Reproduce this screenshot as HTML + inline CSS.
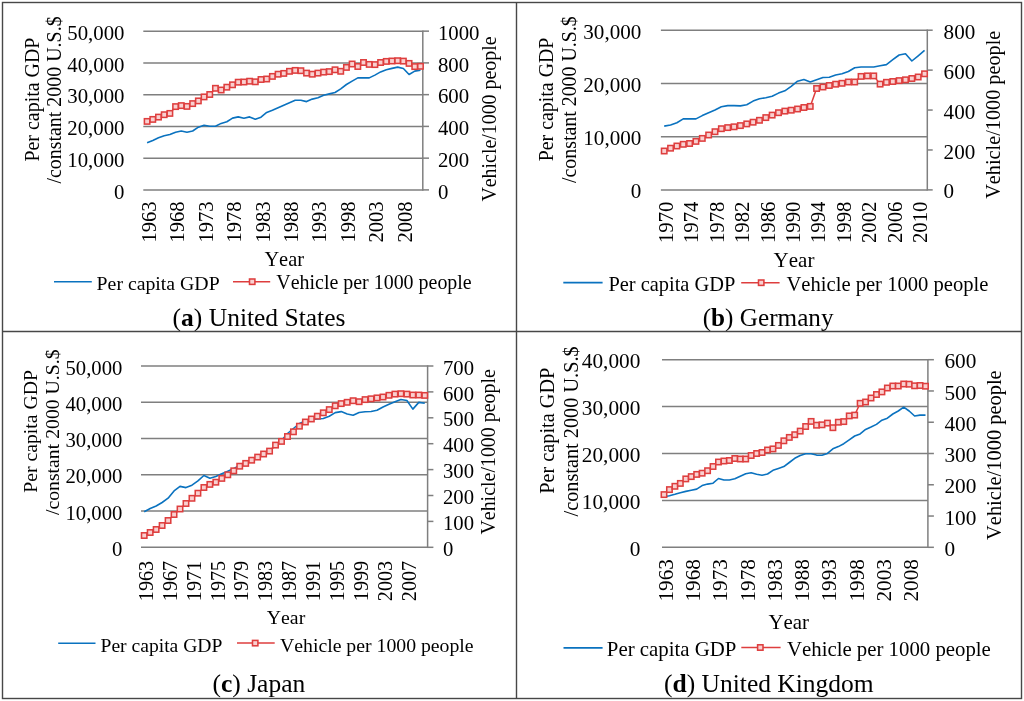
<!DOCTYPE html>
<html><head><meta charset="utf-8"><style>
html,body{margin:0;padding:0;background:#fff;width:1024px;height:701px;overflow:hidden}
svg{display:block;will-change:transform}
text{font-family:"Liberation Serif", serif;fill:#000;font-kerning:none}
</style></head><body>
<svg width="1024" height="701" viewBox="0 0 1024 701">
<rect x="0" y="0" width="1024" height="701" fill="#fff"/>
<line x1="143.3" y1="31.15" x2="422.8" y2="31.15" stroke="#7f7f7f" stroke-width="1.5"/>
<line x1="143.3" y1="62.9" x2="422.8" y2="62.9" stroke="#7f7f7f" stroke-width="1.5"/>
<line x1="143.3" y1="94.65" x2="422.8" y2="94.65" stroke="#7f7f7f" stroke-width="1.5"/>
<line x1="143.3" y1="126.4" x2="422.8" y2="126.4" stroke="#7f7f7f" stroke-width="1.5"/>
<line x1="143.3" y1="158.15" x2="422.8" y2="158.15" stroke="#7f7f7f" stroke-width="1.5"/>
<line x1="143.3" y1="189.9" x2="422.8" y2="189.9" stroke="#7f7f7f" stroke-width="1.5"/>
<line x1="422.8" y1="30.4" x2="422.8" y2="190.65" stroke="#7f7f7f" stroke-width="1.5"/>
<line x1="422.8" y1="31.15" x2="429" y2="31.15" stroke="#7f7f7f" stroke-width="1.5"/>
<line x1="422.8" y1="62.9" x2="429" y2="62.9" stroke="#7f7f7f" stroke-width="1.5"/>
<line x1="422.8" y1="94.65" x2="429" y2="94.65" stroke="#7f7f7f" stroke-width="1.5"/>
<line x1="422.8" y1="126.4" x2="429" y2="126.4" stroke="#7f7f7f" stroke-width="1.5"/>
<line x1="422.8" y1="158.15" x2="429" y2="158.15" stroke="#7f7f7f" stroke-width="1.5"/>
<line x1="422.8" y1="189.9" x2="429" y2="189.9" stroke="#7f7f7f" stroke-width="1.5"/>
<polyline points="147.1,142.8 152.79,140.5 158.49,137.8 164.19,135.8 169.88,134.5 175.57,132.2 181.27,131 186.97,132.3 192.66,131 198.35,127.2 204.05,125.2 209.75,126.3 215.44,126.3 221.13,123.4 226.83,121.7 232.53,118.1 238.22,116.9 243.91,118.2 249.61,116.9 255.31,119.3 261,117.2 266.69,112.4 272.39,110.3 278.09,107.8 283.78,105.2 289.48,102.8 295.17,100.3 300.87,100.3 306.56,101.6 312.25,99.1 317.95,97.8 323.64,95.2 329.34,93.9 335.03,92.5 340.73,88.8 346.43,84.5 352.12,81.1 357.81,77.9 363.51,77.9 369.21,77.9 374.9,75.1 380.6,71.9 386.29,69.8 391.99,68.4 397.68,67.1 403.38,68.5 409.07,74.5 414.76,71.1 420.46,70.1" fill="none" stroke="#0a72bf" stroke-width="1.6" stroke-linejoin="round"/>
<polyline points="147.1,121.4 152.79,119.4 158.49,117.1 164.19,114.7 169.88,113.4 175.57,106.6 181.27,105.6 186.97,106.4 192.66,103.6 198.35,100.9 204.05,96.9 209.75,94.5 215.44,88.3 221.13,90 226.83,87.2 232.53,84.8 238.22,82.2 243.91,82 249.61,81.2 255.31,81.8 261,79.5 266.69,79 272.39,76.4 278.09,74.2 283.78,73.4 289.48,71.3 295.17,70.4 300.87,70.7 306.56,73.1 312.25,74.2 317.95,73.1 323.64,72.1 329.34,71.6 335.03,69.8 340.73,71.3 346.43,67.4 352.12,64 357.81,66.5 363.51,62.5 369.21,64.4 374.9,64.6 380.6,62.5 386.29,61.4 391.99,61 397.68,60.7 403.38,61.1 409.07,63.4 414.76,66.6 420.46,66.3" fill="none" stroke="#de3e3e" stroke-width="1.5" stroke-linejoin="round"/>
<rect x="144.4" y="118.7" width="5.4" height="5.4" fill="#f9d0d0" stroke="#de3e3e" stroke-width="1.55"/>
<rect x="150.09" y="116.7" width="5.4" height="5.4" fill="#f9d0d0" stroke="#de3e3e" stroke-width="1.55"/>
<rect x="155.79" y="114.4" width="5.4" height="5.4" fill="#f9d0d0" stroke="#de3e3e" stroke-width="1.55"/>
<rect x="161.49" y="112" width="5.4" height="5.4" fill="#f9d0d0" stroke="#de3e3e" stroke-width="1.55"/>
<rect x="167.18" y="110.7" width="5.4" height="5.4" fill="#f9d0d0" stroke="#de3e3e" stroke-width="1.55"/>
<rect x="172.88" y="103.9" width="5.4" height="5.4" fill="#f9d0d0" stroke="#de3e3e" stroke-width="1.55"/>
<rect x="178.57" y="102.9" width="5.4" height="5.4" fill="#f9d0d0" stroke="#de3e3e" stroke-width="1.55"/>
<rect x="184.27" y="103.7" width="5.4" height="5.4" fill="#f9d0d0" stroke="#de3e3e" stroke-width="1.55"/>
<rect x="189.96" y="100.9" width="5.4" height="5.4" fill="#f9d0d0" stroke="#de3e3e" stroke-width="1.55"/>
<rect x="195.66" y="98.2" width="5.4" height="5.4" fill="#f9d0d0" stroke="#de3e3e" stroke-width="1.55"/>
<rect x="201.35" y="94.2" width="5.4" height="5.4" fill="#f9d0d0" stroke="#de3e3e" stroke-width="1.55"/>
<rect x="207.05" y="91.8" width="5.4" height="5.4" fill="#f9d0d0" stroke="#de3e3e" stroke-width="1.55"/>
<rect x="212.74" y="85.6" width="5.4" height="5.4" fill="#f9d0d0" stroke="#de3e3e" stroke-width="1.55"/>
<rect x="218.44" y="87.3" width="5.4" height="5.4" fill="#f9d0d0" stroke="#de3e3e" stroke-width="1.55"/>
<rect x="224.13" y="84.5" width="5.4" height="5.4" fill="#f9d0d0" stroke="#de3e3e" stroke-width="1.55"/>
<rect x="229.83" y="82.1" width="5.4" height="5.4" fill="#f9d0d0" stroke="#de3e3e" stroke-width="1.55"/>
<rect x="235.52" y="79.5" width="5.4" height="5.4" fill="#f9d0d0" stroke="#de3e3e" stroke-width="1.55"/>
<rect x="241.22" y="79.3" width="5.4" height="5.4" fill="#f9d0d0" stroke="#de3e3e" stroke-width="1.55"/>
<rect x="246.91" y="78.5" width="5.4" height="5.4" fill="#f9d0d0" stroke="#de3e3e" stroke-width="1.55"/>
<rect x="252.61" y="79.1" width="5.4" height="5.4" fill="#f9d0d0" stroke="#de3e3e" stroke-width="1.55"/>
<rect x="258.3" y="76.8" width="5.4" height="5.4" fill="#f9d0d0" stroke="#de3e3e" stroke-width="1.55"/>
<rect x="264" y="76.3" width="5.4" height="5.4" fill="#f9d0d0" stroke="#de3e3e" stroke-width="1.55"/>
<rect x="269.69" y="73.7" width="5.4" height="5.4" fill="#f9d0d0" stroke="#de3e3e" stroke-width="1.55"/>
<rect x="275.39" y="71.5" width="5.4" height="5.4" fill="#f9d0d0" stroke="#de3e3e" stroke-width="1.55"/>
<rect x="281.08" y="70.7" width="5.4" height="5.4" fill="#f9d0d0" stroke="#de3e3e" stroke-width="1.55"/>
<rect x="286.78" y="68.6" width="5.4" height="5.4" fill="#f9d0d0" stroke="#de3e3e" stroke-width="1.55"/>
<rect x="292.47" y="67.7" width="5.4" height="5.4" fill="#f9d0d0" stroke="#de3e3e" stroke-width="1.55"/>
<rect x="298.17" y="68" width="5.4" height="5.4" fill="#f9d0d0" stroke="#de3e3e" stroke-width="1.55"/>
<rect x="303.86" y="70.4" width="5.4" height="5.4" fill="#f9d0d0" stroke="#de3e3e" stroke-width="1.55"/>
<rect x="309.56" y="71.5" width="5.4" height="5.4" fill="#f9d0d0" stroke="#de3e3e" stroke-width="1.55"/>
<rect x="315.25" y="70.4" width="5.4" height="5.4" fill="#f9d0d0" stroke="#de3e3e" stroke-width="1.55"/>
<rect x="320.94" y="69.4" width="5.4" height="5.4" fill="#f9d0d0" stroke="#de3e3e" stroke-width="1.55"/>
<rect x="326.64" y="68.9" width="5.4" height="5.4" fill="#f9d0d0" stroke="#de3e3e" stroke-width="1.55"/>
<rect x="332.33" y="67.1" width="5.4" height="5.4" fill="#f9d0d0" stroke="#de3e3e" stroke-width="1.55"/>
<rect x="338.03" y="68.6" width="5.4" height="5.4" fill="#f9d0d0" stroke="#de3e3e" stroke-width="1.55"/>
<rect x="343.73" y="64.7" width="5.4" height="5.4" fill="#f9d0d0" stroke="#de3e3e" stroke-width="1.55"/>
<rect x="349.42" y="61.3" width="5.4" height="5.4" fill="#f9d0d0" stroke="#de3e3e" stroke-width="1.55"/>
<rect x="355.12" y="63.8" width="5.4" height="5.4" fill="#f9d0d0" stroke="#de3e3e" stroke-width="1.55"/>
<rect x="360.81" y="59.8" width="5.4" height="5.4" fill="#f9d0d0" stroke="#de3e3e" stroke-width="1.55"/>
<rect x="366.51" y="61.7" width="5.4" height="5.4" fill="#f9d0d0" stroke="#de3e3e" stroke-width="1.55"/>
<rect x="372.2" y="61.9" width="5.4" height="5.4" fill="#f9d0d0" stroke="#de3e3e" stroke-width="1.55"/>
<rect x="377.9" y="59.8" width="5.4" height="5.4" fill="#f9d0d0" stroke="#de3e3e" stroke-width="1.55"/>
<rect x="383.59" y="58.7" width="5.4" height="5.4" fill="#f9d0d0" stroke="#de3e3e" stroke-width="1.55"/>
<rect x="389.29" y="58.3" width="5.4" height="5.4" fill="#f9d0d0" stroke="#de3e3e" stroke-width="1.55"/>
<rect x="394.98" y="58" width="5.4" height="5.4" fill="#f9d0d0" stroke="#de3e3e" stroke-width="1.55"/>
<rect x="400.68" y="58.4" width="5.4" height="5.4" fill="#f9d0d0" stroke="#de3e3e" stroke-width="1.55"/>
<rect x="406.37" y="60.7" width="5.4" height="5.4" fill="#f9d0d0" stroke="#de3e3e" stroke-width="1.55"/>
<rect x="412.06" y="63.9" width="5.4" height="5.4" fill="#f9d0d0" stroke="#de3e3e" stroke-width="1.55"/>
<rect x="417.76" y="63.6" width="5.4" height="5.4" fill="#f9d0d0" stroke="#de3e3e" stroke-width="1.55"/>
<text transform="translate(124.5,39.75) scale(1.03,1)" font-size="20.2" text-anchor="end">50,000</text>
<text transform="translate(124.5,71.5) scale(1.03,1)" font-size="20.2" text-anchor="end">40,000</text>
<text transform="translate(124.5,103.25) scale(1.03,1)" font-size="20.2" text-anchor="end">30,000</text>
<text transform="translate(124.5,135) scale(1.03,1)" font-size="20.2" text-anchor="end">20,000</text>
<text transform="translate(124.5,166.75) scale(1.03,1)" font-size="20.2" text-anchor="end">10,000</text>
<text transform="translate(124.5,198.5) scale(1.03,1)" font-size="20.2" text-anchor="end">0</text>
<text transform="translate(437.9,39.75) scale(1.03,1)" font-size="20.2">1000</text>
<text transform="translate(437.9,71.5) scale(1.03,1)" font-size="20.2">800</text>
<text transform="translate(437.9,103.25) scale(1.03,1)" font-size="20.2">600</text>
<text transform="translate(437.9,135) scale(1.03,1)" font-size="20.2">400</text>
<text transform="translate(437.9,166.75) scale(1.03,1)" font-size="20.2">200</text>
<text transform="translate(437.9,198.5) scale(1.03,1)" font-size="20.2">0</text>
<text transform="translate(155.6,242.6) rotate(-90)" font-size="20.6">1963</text>
<text transform="translate(184.07,242.6) rotate(-90)" font-size="20.6">1968</text>
<text transform="translate(212.55,242.6) rotate(-90)" font-size="20.6">1973</text>
<text transform="translate(241.03,242.6) rotate(-90)" font-size="20.6">1978</text>
<text transform="translate(269.5,242.6) rotate(-90)" font-size="20.6">1983</text>
<text transform="translate(297.98,242.6) rotate(-90)" font-size="20.6">1988</text>
<text transform="translate(326.45,242.6) rotate(-90)" font-size="20.6">1993</text>
<text transform="translate(354.93,242.6) rotate(-90)" font-size="20.6">1998</text>
<text transform="translate(383.4,242.6) rotate(-90)" font-size="20.6">2003</text>
<text transform="translate(411.88,242.6) rotate(-90)" font-size="20.6">2008</text>
<text transform="translate(38.5,161.6) rotate(-90)" font-size="19.95">Per capita GDP</text>
<text transform="translate(60.9,183.6) rotate(-90)" font-size="19.95">/constant 2000 U.S.$</text>
<text transform="translate(496.3,201.6) rotate(-90)" font-size="19.9">Vehicle/1000 people</text>
<text x="264.4" y="266.2" font-size="20.4">Year</text>
<line x1="54" y1="281.7" x2="91.8" y2="281.7" stroke="#0a72bf" stroke-width="1.6"/>
<text x="96.6" y="289.5" font-size="19.8">Per capita GDP</text>
<line x1="233" y1="281.7" x2="270.2" y2="281.7" stroke="#de3e3e" stroke-width="1.5"/>
<rect x="249.5" y="279" width="5.4" height="5.4" fill="#f9d0d0" stroke="#de3e3e" stroke-width="1.55"/>
<text x="276.3" y="289.2" font-size="19.95">Vehicle per 1000 people</text>
<text x="172.6" y="325.6" font-size="25.5">(<tspan font-weight="bold">a</tspan>) United States</text>
<line x1="660.9" y1="30.2" x2="927.3" y2="30.2" stroke="#7f7f7f" stroke-width="1.5"/>
<line x1="660.9" y1="83.43" x2="927.3" y2="83.43" stroke="#7f7f7f" stroke-width="1.5"/>
<line x1="660.9" y1="136.66" x2="927.3" y2="136.66" stroke="#7f7f7f" stroke-width="1.5"/>
<line x1="660.9" y1="189.89" x2="927.3" y2="189.89" stroke="#7f7f7f" stroke-width="1.5"/>
<line x1="927.3" y1="29.45" x2="927.3" y2="190.64" stroke="#7f7f7f" stroke-width="1.5"/>
<line x1="927.3" y1="30.2" x2="932.7" y2="30.2" stroke="#7f7f7f" stroke-width="1.5"/>
<line x1="927.3" y1="70.12" x2="932.7" y2="70.12" stroke="#7f7f7f" stroke-width="1.5"/>
<line x1="927.3" y1="110.05" x2="932.7" y2="110.05" stroke="#7f7f7f" stroke-width="1.5"/>
<line x1="927.3" y1="149.97" x2="932.7" y2="149.97" stroke="#7f7f7f" stroke-width="1.5"/>
<line x1="927.3" y1="189.89" x2="932.7" y2="189.89" stroke="#7f7f7f" stroke-width="1.5"/>
<polyline points="664.2,126.1 670.55,125 676.9,122.7 683.25,118.9 689.6,118.9 695.95,118.9 702.3,115.6 708.65,112.7 715,110 721.35,106.8 727.7,105.6 734.05,105.6 740.4,105.9 746.75,104.7 753.1,101.1 759.45,98.8 765.8,97.7 772.15,96.3 778.5,93.1 784.85,90.8 791.2,86.3 797.55,81.2 803.9,79.5 810.25,82 816.6,79.8 822.95,77.5 829.3,77.2 835.65,75 842,73.8 848.35,71.5 854.7,67.8 861.05,67 867.4,67 873.75,67 880.1,65.7 886.45,64.6 892.8,59.7 899.15,55 905.5,53.7 911.85,61 918.2,55.8 924.55,50.4" fill="none" stroke="#0a72bf" stroke-width="1.6" stroke-linejoin="round"/>
<polyline points="664.2,151 670.55,148.2 676.9,146 683.25,144.3 689.6,143.5 695.95,141.4 702.3,138.4 708.65,135 715,131.7 721.35,128.7 727.7,127.6 734.05,126.8 740.4,125.6 746.75,123.9 753.1,122.2 759.45,120.3 765.8,117.6 772.15,115.1 778.5,112.7 784.85,111.1 791.2,110.2 797.55,109 803.9,107.5 810.25,106.4 816.6,88.5 822.95,87 829.3,85.5 835.65,84.2 842,83.3 848.35,82 854.7,82 861.05,76.4 867.4,75.9 873.75,75.9 880.1,84.1 886.45,82.3 892.8,81.5 899.15,80.6 905.5,79.8 911.85,78.5 918.2,77 924.55,73.8" fill="none" stroke="#de3e3e" stroke-width="1.5" stroke-linejoin="round"/>
<rect x="661.5" y="148.3" width="5.4" height="5.4" fill="#f9d0d0" stroke="#de3e3e" stroke-width="1.55"/>
<rect x="667.85" y="145.5" width="5.4" height="5.4" fill="#f9d0d0" stroke="#de3e3e" stroke-width="1.55"/>
<rect x="674.2" y="143.3" width="5.4" height="5.4" fill="#f9d0d0" stroke="#de3e3e" stroke-width="1.55"/>
<rect x="680.55" y="141.6" width="5.4" height="5.4" fill="#f9d0d0" stroke="#de3e3e" stroke-width="1.55"/>
<rect x="686.9" y="140.8" width="5.4" height="5.4" fill="#f9d0d0" stroke="#de3e3e" stroke-width="1.55"/>
<rect x="693.25" y="138.7" width="5.4" height="5.4" fill="#f9d0d0" stroke="#de3e3e" stroke-width="1.55"/>
<rect x="699.6" y="135.7" width="5.4" height="5.4" fill="#f9d0d0" stroke="#de3e3e" stroke-width="1.55"/>
<rect x="705.95" y="132.3" width="5.4" height="5.4" fill="#f9d0d0" stroke="#de3e3e" stroke-width="1.55"/>
<rect x="712.3" y="129" width="5.4" height="5.4" fill="#f9d0d0" stroke="#de3e3e" stroke-width="1.55"/>
<rect x="718.65" y="126" width="5.4" height="5.4" fill="#f9d0d0" stroke="#de3e3e" stroke-width="1.55"/>
<rect x="725" y="124.9" width="5.4" height="5.4" fill="#f9d0d0" stroke="#de3e3e" stroke-width="1.55"/>
<rect x="731.35" y="124.1" width="5.4" height="5.4" fill="#f9d0d0" stroke="#de3e3e" stroke-width="1.55"/>
<rect x="737.7" y="122.9" width="5.4" height="5.4" fill="#f9d0d0" stroke="#de3e3e" stroke-width="1.55"/>
<rect x="744.05" y="121.2" width="5.4" height="5.4" fill="#f9d0d0" stroke="#de3e3e" stroke-width="1.55"/>
<rect x="750.4" y="119.5" width="5.4" height="5.4" fill="#f9d0d0" stroke="#de3e3e" stroke-width="1.55"/>
<rect x="756.75" y="117.6" width="5.4" height="5.4" fill="#f9d0d0" stroke="#de3e3e" stroke-width="1.55"/>
<rect x="763.1" y="114.9" width="5.4" height="5.4" fill="#f9d0d0" stroke="#de3e3e" stroke-width="1.55"/>
<rect x="769.45" y="112.4" width="5.4" height="5.4" fill="#f9d0d0" stroke="#de3e3e" stroke-width="1.55"/>
<rect x="775.8" y="110" width="5.4" height="5.4" fill="#f9d0d0" stroke="#de3e3e" stroke-width="1.55"/>
<rect x="782.15" y="108.4" width="5.4" height="5.4" fill="#f9d0d0" stroke="#de3e3e" stroke-width="1.55"/>
<rect x="788.5" y="107.5" width="5.4" height="5.4" fill="#f9d0d0" stroke="#de3e3e" stroke-width="1.55"/>
<rect x="794.85" y="106.3" width="5.4" height="5.4" fill="#f9d0d0" stroke="#de3e3e" stroke-width="1.55"/>
<rect x="801.2" y="104.8" width="5.4" height="5.4" fill="#f9d0d0" stroke="#de3e3e" stroke-width="1.55"/>
<rect x="807.55" y="103.7" width="5.4" height="5.4" fill="#f9d0d0" stroke="#de3e3e" stroke-width="1.55"/>
<rect x="813.9" y="85.8" width="5.4" height="5.4" fill="#f9d0d0" stroke="#de3e3e" stroke-width="1.55"/>
<rect x="820.25" y="84.3" width="5.4" height="5.4" fill="#f9d0d0" stroke="#de3e3e" stroke-width="1.55"/>
<rect x="826.6" y="82.8" width="5.4" height="5.4" fill="#f9d0d0" stroke="#de3e3e" stroke-width="1.55"/>
<rect x="832.95" y="81.5" width="5.4" height="5.4" fill="#f9d0d0" stroke="#de3e3e" stroke-width="1.55"/>
<rect x="839.3" y="80.6" width="5.4" height="5.4" fill="#f9d0d0" stroke="#de3e3e" stroke-width="1.55"/>
<rect x="845.65" y="79.3" width="5.4" height="5.4" fill="#f9d0d0" stroke="#de3e3e" stroke-width="1.55"/>
<rect x="852" y="79.3" width="5.4" height="5.4" fill="#f9d0d0" stroke="#de3e3e" stroke-width="1.55"/>
<rect x="858.35" y="73.7" width="5.4" height="5.4" fill="#f9d0d0" stroke="#de3e3e" stroke-width="1.55"/>
<rect x="864.7" y="73.2" width="5.4" height="5.4" fill="#f9d0d0" stroke="#de3e3e" stroke-width="1.55"/>
<rect x="871.05" y="73.2" width="5.4" height="5.4" fill="#f9d0d0" stroke="#de3e3e" stroke-width="1.55"/>
<rect x="877.4" y="81.4" width="5.4" height="5.4" fill="#f9d0d0" stroke="#de3e3e" stroke-width="1.55"/>
<rect x="883.75" y="79.6" width="5.4" height="5.4" fill="#f9d0d0" stroke="#de3e3e" stroke-width="1.55"/>
<rect x="890.1" y="78.8" width="5.4" height="5.4" fill="#f9d0d0" stroke="#de3e3e" stroke-width="1.55"/>
<rect x="896.45" y="77.9" width="5.4" height="5.4" fill="#f9d0d0" stroke="#de3e3e" stroke-width="1.55"/>
<rect x="902.8" y="77.1" width="5.4" height="5.4" fill="#f9d0d0" stroke="#de3e3e" stroke-width="1.55"/>
<rect x="909.15" y="75.8" width="5.4" height="5.4" fill="#f9d0d0" stroke="#de3e3e" stroke-width="1.55"/>
<rect x="915.5" y="74.3" width="5.4" height="5.4" fill="#f9d0d0" stroke="#de3e3e" stroke-width="1.55"/>
<rect x="921.85" y="71.1" width="5.4" height="5.4" fill="#f9d0d0" stroke="#de3e3e" stroke-width="1.55"/>
<text transform="translate(641.3,38.8) scale(1.02,1)" font-size="20.7" text-anchor="end">30,000</text>
<text transform="translate(641.3,92.03) scale(1.02,1)" font-size="20.7" text-anchor="end">20,000</text>
<text transform="translate(641.3,145.26) scale(1.02,1)" font-size="20.7" text-anchor="end">10,000</text>
<text transform="translate(641.3,198.49) scale(1.02,1)" font-size="20.7" text-anchor="end">0</text>
<text transform="translate(943.6,38.8) scale(1.02,1)" font-size="20.7">800</text>
<text transform="translate(943.6,78.72) scale(1.02,1)" font-size="20.7">600</text>
<text transform="translate(943.6,118.64) scale(1.02,1)" font-size="20.7">400</text>
<text transform="translate(943.6,158.57) scale(1.02,1)" font-size="20.7">200</text>
<text transform="translate(943.6,198.49) scale(1.02,1)" font-size="20.7">0</text>
<text transform="translate(673,243.1) rotate(-90)" font-size="20.8">1970</text>
<text transform="translate(698.4,243.1) rotate(-90)" font-size="20.8">1974</text>
<text transform="translate(723.8,243.1) rotate(-90)" font-size="20.8">1978</text>
<text transform="translate(749.2,243.1) rotate(-90)" font-size="20.8">1982</text>
<text transform="translate(774.6,243.1) rotate(-90)" font-size="20.8">1986</text>
<text transform="translate(800,243.1) rotate(-90)" font-size="20.8">1990</text>
<text transform="translate(825.4,243.1) rotate(-90)" font-size="20.8">1994</text>
<text transform="translate(850.8,243.1) rotate(-90)" font-size="20.8">1998</text>
<text transform="translate(876.2,243.1) rotate(-90)" font-size="20.8">2002</text>
<text transform="translate(901.6,243.1) rotate(-90)" font-size="20.8">2006</text>
<text transform="translate(927,243.1) rotate(-90)" font-size="20.8">2010</text>
<text transform="translate(552.5,161.3) rotate(-90)" font-size="19.9">Per capita GDP</text>
<text transform="translate(575.6,183.1) rotate(-90)" font-size="19.9">/constant 2000 U.S.$</text>
<text transform="translate(1000,198.8) rotate(-90)" font-size="20.25">Vehicle/1000 people</text>
<text x="773.6" y="266.6" font-size="21.0">Year</text>
<line x1="563.3" y1="282.6" x2="602.6" y2="282.6" stroke="#0a72bf" stroke-width="1.6"/>
<text x="608.4" y="290.9" font-size="20.4">Per capita GDP</text>
<line x1="741.2" y1="282.7" x2="779.6" y2="282.7" stroke="#de3e3e" stroke-width="1.5"/>
<rect x="758.5" y="280" width="5.4" height="5.4" fill="#f9d0d0" stroke="#de3e3e" stroke-width="1.55"/>
<text x="786.5" y="290.6" font-size="20.6">Vehicle per 1000 people</text>
<text x="702.7" y="326.3" font-size="25.2">(<tspan font-weight="bold">b</tspan>) Germany</text>
<line x1="141" y1="366" x2="427.6" y2="366" stroke="#7f7f7f" stroke-width="1.5"/>
<line x1="141" y1="402.26" x2="427.6" y2="402.26" stroke="#7f7f7f" stroke-width="1.5"/>
<line x1="141" y1="438.52" x2="427.6" y2="438.52" stroke="#7f7f7f" stroke-width="1.5"/>
<line x1="141" y1="474.78" x2="427.6" y2="474.78" stroke="#7f7f7f" stroke-width="1.5"/>
<line x1="141" y1="511.04" x2="427.6" y2="511.04" stroke="#7f7f7f" stroke-width="1.5"/>
<line x1="141" y1="547.3" x2="427.6" y2="547.3" stroke="#7f7f7f" stroke-width="1.5"/>
<line x1="427.6" y1="365.25" x2="427.6" y2="548.05" stroke="#7f7f7f" stroke-width="1.5"/>
<line x1="427.6" y1="366" x2="433.4" y2="366" stroke="#7f7f7f" stroke-width="1.5"/>
<line x1="427.6" y1="391.9" x2="433.4" y2="391.9" stroke="#7f7f7f" stroke-width="1.5"/>
<line x1="427.6" y1="417.8" x2="433.4" y2="417.8" stroke="#7f7f7f" stroke-width="1.5"/>
<line x1="427.6" y1="443.7" x2="433.4" y2="443.7" stroke="#7f7f7f" stroke-width="1.5"/>
<line x1="427.6" y1="469.6" x2="433.4" y2="469.6" stroke="#7f7f7f" stroke-width="1.5"/>
<line x1="427.6" y1="495.5" x2="433.4" y2="495.5" stroke="#7f7f7f" stroke-width="1.5"/>
<line x1="427.6" y1="521.4" x2="433.4" y2="521.4" stroke="#7f7f7f" stroke-width="1.5"/>
<line x1="427.6" y1="547.3" x2="433.4" y2="547.3" stroke="#7f7f7f" stroke-width="1.5"/>
<polyline points="144.2,511.8 150.17,508.5 156.14,506 162.11,502.5 168.08,498.2 174.05,490.9 180.02,486.4 185.99,487.6 191.96,485.2 197.93,480.9 203.9,475.5 209.87,478.3 215.84,476.5 221.81,473.7 227.78,471.2 233.75,468.6 239.72,465.3 245.69,462.5 251.66,459.5 257.63,456.8 263.6,454.3 269.57,450.5 275.54,445.5 281.51,440.5 287.48,433.5 293.45,428.5 299.42,423.5 305.39,421 311.36,419.5 317.33,419 323.3,418.5 329.27,416.2 335.24,412.6 341.21,411.6 347.18,414 353.15,415.2 359.12,412.5 365.09,411.7 371.06,411.5 377.03,410.3 383,407 388.97,404.3 394.94,401.8 400.91,399.5 406.88,400.5 412.85,409.1 418.82,402.4 424.79,403.3" fill="none" stroke="#0a72bf" stroke-width="1.6" stroke-linejoin="round"/>
<polyline points="144.2,535.5 150.17,532.5 156.14,529.5 162.11,525.5 168.08,520.5 174.05,514.5 180.02,509 185.99,503.5 191.96,498.3 197.93,493.2 203.9,487.5 209.87,484.4 215.84,482.2 221.81,478.4 227.78,474.8 233.75,470.8 239.72,466.2 245.69,463.4 251.66,460.2 257.63,457.1 263.6,454 269.57,451.1 275.54,445.1 281.51,441.4 287.48,436.5 293.45,431.8 299.42,426.2 305.39,422 311.36,419 317.33,416.2 323.3,412.8 329.27,409.6 335.24,405.8 341.21,403.6 347.18,402.3 353.15,400.7 359.12,401.7 365.09,399.6 371.06,398.8 377.03,397.9 383,397 388.97,395.3 394.94,394.1 400.91,393.7 406.88,394.1 412.85,395 418.82,395 424.79,395.4" fill="none" stroke="#de3e3e" stroke-width="1.5" stroke-linejoin="round"/>
<rect x="141.5" y="532.8" width="5.4" height="5.4" fill="#f9d0d0" stroke="#de3e3e" stroke-width="1.55"/>
<rect x="147.47" y="529.8" width="5.4" height="5.4" fill="#f9d0d0" stroke="#de3e3e" stroke-width="1.55"/>
<rect x="153.44" y="526.8" width="5.4" height="5.4" fill="#f9d0d0" stroke="#de3e3e" stroke-width="1.55"/>
<rect x="159.41" y="522.8" width="5.4" height="5.4" fill="#f9d0d0" stroke="#de3e3e" stroke-width="1.55"/>
<rect x="165.38" y="517.8" width="5.4" height="5.4" fill="#f9d0d0" stroke="#de3e3e" stroke-width="1.55"/>
<rect x="171.35" y="511.8" width="5.4" height="5.4" fill="#f9d0d0" stroke="#de3e3e" stroke-width="1.55"/>
<rect x="177.32" y="506.3" width="5.4" height="5.4" fill="#f9d0d0" stroke="#de3e3e" stroke-width="1.55"/>
<rect x="183.29" y="500.8" width="5.4" height="5.4" fill="#f9d0d0" stroke="#de3e3e" stroke-width="1.55"/>
<rect x="189.26" y="495.6" width="5.4" height="5.4" fill="#f9d0d0" stroke="#de3e3e" stroke-width="1.55"/>
<rect x="195.23" y="490.5" width="5.4" height="5.4" fill="#f9d0d0" stroke="#de3e3e" stroke-width="1.55"/>
<rect x="201.2" y="484.8" width="5.4" height="5.4" fill="#f9d0d0" stroke="#de3e3e" stroke-width="1.55"/>
<rect x="207.17" y="481.7" width="5.4" height="5.4" fill="#f9d0d0" stroke="#de3e3e" stroke-width="1.55"/>
<rect x="213.14" y="479.5" width="5.4" height="5.4" fill="#f9d0d0" stroke="#de3e3e" stroke-width="1.55"/>
<rect x="219.11" y="475.7" width="5.4" height="5.4" fill="#f9d0d0" stroke="#de3e3e" stroke-width="1.55"/>
<rect x="225.08" y="472.1" width="5.4" height="5.4" fill="#f9d0d0" stroke="#de3e3e" stroke-width="1.55"/>
<rect x="231.05" y="468.1" width="5.4" height="5.4" fill="#f9d0d0" stroke="#de3e3e" stroke-width="1.55"/>
<rect x="237.02" y="463.5" width="5.4" height="5.4" fill="#f9d0d0" stroke="#de3e3e" stroke-width="1.55"/>
<rect x="242.99" y="460.7" width="5.4" height="5.4" fill="#f9d0d0" stroke="#de3e3e" stroke-width="1.55"/>
<rect x="248.96" y="457.5" width="5.4" height="5.4" fill="#f9d0d0" stroke="#de3e3e" stroke-width="1.55"/>
<rect x="254.93" y="454.4" width="5.4" height="5.4" fill="#f9d0d0" stroke="#de3e3e" stroke-width="1.55"/>
<rect x="260.9" y="451.3" width="5.4" height="5.4" fill="#f9d0d0" stroke="#de3e3e" stroke-width="1.55"/>
<rect x="266.87" y="448.4" width="5.4" height="5.4" fill="#f9d0d0" stroke="#de3e3e" stroke-width="1.55"/>
<rect x="272.84" y="442.4" width="5.4" height="5.4" fill="#f9d0d0" stroke="#de3e3e" stroke-width="1.55"/>
<rect x="278.81" y="438.7" width="5.4" height="5.4" fill="#f9d0d0" stroke="#de3e3e" stroke-width="1.55"/>
<rect x="284.78" y="433.8" width="5.4" height="5.4" fill="#f9d0d0" stroke="#de3e3e" stroke-width="1.55"/>
<rect x="290.75" y="429.1" width="5.4" height="5.4" fill="#f9d0d0" stroke="#de3e3e" stroke-width="1.55"/>
<rect x="296.72" y="423.5" width="5.4" height="5.4" fill="#f9d0d0" stroke="#de3e3e" stroke-width="1.55"/>
<rect x="302.69" y="419.3" width="5.4" height="5.4" fill="#f9d0d0" stroke="#de3e3e" stroke-width="1.55"/>
<rect x="308.66" y="416.3" width="5.4" height="5.4" fill="#f9d0d0" stroke="#de3e3e" stroke-width="1.55"/>
<rect x="314.63" y="413.5" width="5.4" height="5.4" fill="#f9d0d0" stroke="#de3e3e" stroke-width="1.55"/>
<rect x="320.6" y="410.1" width="5.4" height="5.4" fill="#f9d0d0" stroke="#de3e3e" stroke-width="1.55"/>
<rect x="326.57" y="406.9" width="5.4" height="5.4" fill="#f9d0d0" stroke="#de3e3e" stroke-width="1.55"/>
<rect x="332.54" y="403.1" width="5.4" height="5.4" fill="#f9d0d0" stroke="#de3e3e" stroke-width="1.55"/>
<rect x="338.51" y="400.9" width="5.4" height="5.4" fill="#f9d0d0" stroke="#de3e3e" stroke-width="1.55"/>
<rect x="344.48" y="399.6" width="5.4" height="5.4" fill="#f9d0d0" stroke="#de3e3e" stroke-width="1.55"/>
<rect x="350.45" y="398" width="5.4" height="5.4" fill="#f9d0d0" stroke="#de3e3e" stroke-width="1.55"/>
<rect x="356.42" y="399" width="5.4" height="5.4" fill="#f9d0d0" stroke="#de3e3e" stroke-width="1.55"/>
<rect x="362.39" y="396.9" width="5.4" height="5.4" fill="#f9d0d0" stroke="#de3e3e" stroke-width="1.55"/>
<rect x="368.36" y="396.1" width="5.4" height="5.4" fill="#f9d0d0" stroke="#de3e3e" stroke-width="1.55"/>
<rect x="374.33" y="395.2" width="5.4" height="5.4" fill="#f9d0d0" stroke="#de3e3e" stroke-width="1.55"/>
<rect x="380.3" y="394.3" width="5.4" height="5.4" fill="#f9d0d0" stroke="#de3e3e" stroke-width="1.55"/>
<rect x="386.27" y="392.6" width="5.4" height="5.4" fill="#f9d0d0" stroke="#de3e3e" stroke-width="1.55"/>
<rect x="392.24" y="391.4" width="5.4" height="5.4" fill="#f9d0d0" stroke="#de3e3e" stroke-width="1.55"/>
<rect x="398.21" y="391" width="5.4" height="5.4" fill="#f9d0d0" stroke="#de3e3e" stroke-width="1.55"/>
<rect x="404.18" y="391.4" width="5.4" height="5.4" fill="#f9d0d0" stroke="#de3e3e" stroke-width="1.55"/>
<rect x="410.15" y="392.3" width="5.4" height="5.4" fill="#f9d0d0" stroke="#de3e3e" stroke-width="1.55"/>
<rect x="416.12" y="392.3" width="5.4" height="5.4" fill="#f9d0d0" stroke="#de3e3e" stroke-width="1.55"/>
<rect x="422.09" y="392.7" width="5.4" height="5.4" fill="#f9d0d0" stroke="#de3e3e" stroke-width="1.55"/>
<text transform="translate(122.4,374.6) scale(1.03,1)" font-size="20.1" text-anchor="end">50,000</text>
<text transform="translate(122.4,410.86) scale(1.03,1)" font-size="20.1" text-anchor="end">40,000</text>
<text transform="translate(122.4,447.12) scale(1.03,1)" font-size="20.1" text-anchor="end">30,000</text>
<text transform="translate(122.4,483.38) scale(1.03,1)" font-size="20.1" text-anchor="end">20,000</text>
<text transform="translate(122.4,519.64) scale(1.03,1)" font-size="20.1" text-anchor="end">10,000</text>
<text transform="translate(122.4,555.9) scale(1.03,1)" font-size="20.1" text-anchor="end">0</text>
<text transform="translate(443,374.6) scale(1.03,1)" font-size="20.1">700</text>
<text transform="translate(443,400.5) scale(1.03,1)" font-size="20.1">600</text>
<text transform="translate(443,426.4) scale(1.03,1)" font-size="20.1">500</text>
<text transform="translate(443,452.3) scale(1.03,1)" font-size="20.1">400</text>
<text transform="translate(443,478.2) scale(1.03,1)" font-size="20.1">300</text>
<text transform="translate(443,504.1) scale(1.03,1)" font-size="20.1">200</text>
<text transform="translate(443,530) scale(1.03,1)" font-size="20.1">100</text>
<text transform="translate(443,555.9) scale(1.03,1)" font-size="20.1">0</text>
<text transform="translate(152.9,601.2) rotate(-90)" font-size="20.2">1963</text>
<text transform="translate(176.78,601.2) rotate(-90)" font-size="20.2">1967</text>
<text transform="translate(200.66,601.2) rotate(-90)" font-size="20.2">1971</text>
<text transform="translate(224.54,601.2) rotate(-90)" font-size="20.2">1975</text>
<text transform="translate(248.42,601.2) rotate(-90)" font-size="20.2">1979</text>
<text transform="translate(272.3,601.2) rotate(-90)" font-size="20.2">1983</text>
<text transform="translate(296.18,601.2) rotate(-90)" font-size="20.2">1987</text>
<text transform="translate(320.06,601.2) rotate(-90)" font-size="20.2">1991</text>
<text transform="translate(343.94,601.2) rotate(-90)" font-size="20.2">1995</text>
<text transform="translate(367.82,601.2) rotate(-90)" font-size="20.2">1999</text>
<text transform="translate(391.7,601.2) rotate(-90)" font-size="20.2">2003</text>
<text transform="translate(415.58,601.2) rotate(-90)" font-size="20.2">2007</text>
<text transform="translate(37.2,492.8) rotate(-90)" font-size="19.75">Per capita GDP</text>
<text transform="translate(59.4,515.1) rotate(-90)" font-size="19.75">/constant 2000 U.S.$</text>
<text transform="translate(495,534.6) rotate(-90)" font-size="19.95">Vehicle/1000 people</text>
<text x="266.8" y="623.5" font-size="19.8">Year</text>
<line x1="58.2" y1="643.2" x2="95.5" y2="643.2" stroke="#0a72bf" stroke-width="1.6"/>
<text x="100.5" y="652" font-size="19.6">Per capita GDP</text>
<line x1="237" y1="643.1" x2="274.7" y2="643.1" stroke="#de3e3e" stroke-width="1.5"/>
<rect x="252.5" y="640.4" width="5.4" height="5.4" fill="#f9d0d0" stroke="#de3e3e" stroke-width="1.55"/>
<text x="280" y="652" font-size="19.75">Vehicle per 1000 people</text>
<text x="212.5" y="692" font-size="25.5">(<tspan font-weight="bold">c</tspan>) Japan</text>
<line x1="662" y1="359.7" x2="927.9" y2="359.7" stroke="#7f7f7f" stroke-width="1.5"/>
<line x1="662" y1="406.6" x2="927.9" y2="406.6" stroke="#7f7f7f" stroke-width="1.5"/>
<line x1="662" y1="453.5" x2="927.9" y2="453.5" stroke="#7f7f7f" stroke-width="1.5"/>
<line x1="662" y1="500.4" x2="927.9" y2="500.4" stroke="#7f7f7f" stroke-width="1.5"/>
<line x1="662" y1="547.3" x2="927.9" y2="547.3" stroke="#7f7f7f" stroke-width="1.5"/>
<line x1="927.9" y1="358.95" x2="927.9" y2="548.05" stroke="#7f7f7f" stroke-width="1.5"/>
<line x1="927.9" y1="359.7" x2="933.9" y2="359.7" stroke="#7f7f7f" stroke-width="1.5"/>
<line x1="927.9" y1="390.97" x2="933.9" y2="390.97" stroke="#7f7f7f" stroke-width="1.5"/>
<line x1="927.9" y1="422.23" x2="933.9" y2="422.23" stroke="#7f7f7f" stroke-width="1.5"/>
<line x1="927.9" y1="453.5" x2="933.9" y2="453.5" stroke="#7f7f7f" stroke-width="1.5"/>
<line x1="927.9" y1="484.77" x2="933.9" y2="484.77" stroke="#7f7f7f" stroke-width="1.5"/>
<line x1="927.9" y1="516.03" x2="933.9" y2="516.03" stroke="#7f7f7f" stroke-width="1.5"/>
<line x1="927.9" y1="547.3" x2="933.9" y2="547.3" stroke="#7f7f7f" stroke-width="1.5"/>
<polyline points="664,496.8 669.45,495.7 674.9,494.3 680.34,492.7 685.79,491.4 691.24,490.3 696.69,489.1 702.14,485.6 707.58,484.1 713.03,483.2 718.48,478.5 723.93,480 729.38,480 734.82,478.8 740.27,476.2 745.72,473.8 751.17,472.8 756.62,474.2 762.06,475.2 767.51,474 772.96,470.3 778.41,468.5 783.86,466.6 789.3,462.5 794.75,458.3 800.2,455.5 805.65,453.7 811.1,453.7 816.54,455.1 821.99,455.3 827.44,453.4 832.89,448.8 838.34,446.6 843.78,443.7 849.23,439.8 854.68,436 860.13,433.9 865.58,429.4 871.02,427 876.47,424.4 881.92,420.2 887.37,418.2 892.82,414 898.26,411 903.71,407.1 909.16,411 914.61,416 920.06,415.1 925.5,415.1" fill="none" stroke="#0a72bf" stroke-width="1.6" stroke-linejoin="round"/>
<polyline points="664,494.6 669.45,489.6 674.9,486.3 680.34,483.4 685.79,478.9 691.24,476.6 696.69,474.4 702.14,473.2 707.58,470.7 713.03,466.5 718.48,462 723.93,461 729.38,460.5 734.82,458.5 740.27,459 745.72,459 751.17,455.5 756.62,453.5 762.06,452.5 767.51,450 772.96,448.9 778.41,445.4 783.86,440.8 789.3,437.4 794.75,434.7 800.2,431.1 805.65,426.5 811.1,421.4 816.54,425.2 821.99,424.8 827.44,423.1 832.89,427.7 838.34,422.2 843.78,421.6 849.23,415.9 854.68,415.1 860.13,403.3 865.58,402 871.02,398 876.47,394.5 881.92,391.9 887.37,388 892.82,386 898.26,386 903.71,384 909.16,384.2 914.61,385.8 920.06,385.5 925.5,386.2" fill="none" stroke="#de3e3e" stroke-width="1.5" stroke-linejoin="round"/>
<rect x="661.3" y="491.9" width="5.4" height="5.4" fill="#f9d0d0" stroke="#de3e3e" stroke-width="1.55"/>
<rect x="666.75" y="486.9" width="5.4" height="5.4" fill="#f9d0d0" stroke="#de3e3e" stroke-width="1.55"/>
<rect x="672.2" y="483.6" width="5.4" height="5.4" fill="#f9d0d0" stroke="#de3e3e" stroke-width="1.55"/>
<rect x="677.64" y="480.7" width="5.4" height="5.4" fill="#f9d0d0" stroke="#de3e3e" stroke-width="1.55"/>
<rect x="683.09" y="476.2" width="5.4" height="5.4" fill="#f9d0d0" stroke="#de3e3e" stroke-width="1.55"/>
<rect x="688.54" y="473.9" width="5.4" height="5.4" fill="#f9d0d0" stroke="#de3e3e" stroke-width="1.55"/>
<rect x="693.99" y="471.7" width="5.4" height="5.4" fill="#f9d0d0" stroke="#de3e3e" stroke-width="1.55"/>
<rect x="699.44" y="470.5" width="5.4" height="5.4" fill="#f9d0d0" stroke="#de3e3e" stroke-width="1.55"/>
<rect x="704.88" y="468" width="5.4" height="5.4" fill="#f9d0d0" stroke="#de3e3e" stroke-width="1.55"/>
<rect x="710.33" y="463.8" width="5.4" height="5.4" fill="#f9d0d0" stroke="#de3e3e" stroke-width="1.55"/>
<rect x="715.78" y="459.3" width="5.4" height="5.4" fill="#f9d0d0" stroke="#de3e3e" stroke-width="1.55"/>
<rect x="721.23" y="458.3" width="5.4" height="5.4" fill="#f9d0d0" stroke="#de3e3e" stroke-width="1.55"/>
<rect x="726.68" y="457.8" width="5.4" height="5.4" fill="#f9d0d0" stroke="#de3e3e" stroke-width="1.55"/>
<rect x="732.12" y="455.8" width="5.4" height="5.4" fill="#f9d0d0" stroke="#de3e3e" stroke-width="1.55"/>
<rect x="737.57" y="456.3" width="5.4" height="5.4" fill="#f9d0d0" stroke="#de3e3e" stroke-width="1.55"/>
<rect x="743.02" y="456.3" width="5.4" height="5.4" fill="#f9d0d0" stroke="#de3e3e" stroke-width="1.55"/>
<rect x="748.47" y="452.8" width="5.4" height="5.4" fill="#f9d0d0" stroke="#de3e3e" stroke-width="1.55"/>
<rect x="753.92" y="450.8" width="5.4" height="5.4" fill="#f9d0d0" stroke="#de3e3e" stroke-width="1.55"/>
<rect x="759.36" y="449.8" width="5.4" height="5.4" fill="#f9d0d0" stroke="#de3e3e" stroke-width="1.55"/>
<rect x="764.81" y="447.3" width="5.4" height="5.4" fill="#f9d0d0" stroke="#de3e3e" stroke-width="1.55"/>
<rect x="770.26" y="446.2" width="5.4" height="5.4" fill="#f9d0d0" stroke="#de3e3e" stroke-width="1.55"/>
<rect x="775.71" y="442.7" width="5.4" height="5.4" fill="#f9d0d0" stroke="#de3e3e" stroke-width="1.55"/>
<rect x="781.16" y="438.1" width="5.4" height="5.4" fill="#f9d0d0" stroke="#de3e3e" stroke-width="1.55"/>
<rect x="786.6" y="434.7" width="5.4" height="5.4" fill="#f9d0d0" stroke="#de3e3e" stroke-width="1.55"/>
<rect x="792.05" y="432" width="5.4" height="5.4" fill="#f9d0d0" stroke="#de3e3e" stroke-width="1.55"/>
<rect x="797.5" y="428.4" width="5.4" height="5.4" fill="#f9d0d0" stroke="#de3e3e" stroke-width="1.55"/>
<rect x="802.95" y="423.8" width="5.4" height="5.4" fill="#f9d0d0" stroke="#de3e3e" stroke-width="1.55"/>
<rect x="808.4" y="418.7" width="5.4" height="5.4" fill="#f9d0d0" stroke="#de3e3e" stroke-width="1.55"/>
<rect x="813.84" y="422.5" width="5.4" height="5.4" fill="#f9d0d0" stroke="#de3e3e" stroke-width="1.55"/>
<rect x="819.29" y="422.1" width="5.4" height="5.4" fill="#f9d0d0" stroke="#de3e3e" stroke-width="1.55"/>
<rect x="824.74" y="420.4" width="5.4" height="5.4" fill="#f9d0d0" stroke="#de3e3e" stroke-width="1.55"/>
<rect x="830.19" y="425" width="5.4" height="5.4" fill="#f9d0d0" stroke="#de3e3e" stroke-width="1.55"/>
<rect x="835.64" y="419.5" width="5.4" height="5.4" fill="#f9d0d0" stroke="#de3e3e" stroke-width="1.55"/>
<rect x="841.08" y="418.9" width="5.4" height="5.4" fill="#f9d0d0" stroke="#de3e3e" stroke-width="1.55"/>
<rect x="846.53" y="413.2" width="5.4" height="5.4" fill="#f9d0d0" stroke="#de3e3e" stroke-width="1.55"/>
<rect x="851.98" y="412.4" width="5.4" height="5.4" fill="#f9d0d0" stroke="#de3e3e" stroke-width="1.55"/>
<rect x="857.43" y="400.6" width="5.4" height="5.4" fill="#f9d0d0" stroke="#de3e3e" stroke-width="1.55"/>
<rect x="862.88" y="399.3" width="5.4" height="5.4" fill="#f9d0d0" stroke="#de3e3e" stroke-width="1.55"/>
<rect x="868.32" y="395.3" width="5.4" height="5.4" fill="#f9d0d0" stroke="#de3e3e" stroke-width="1.55"/>
<rect x="873.77" y="391.8" width="5.4" height="5.4" fill="#f9d0d0" stroke="#de3e3e" stroke-width="1.55"/>
<rect x="879.22" y="389.2" width="5.4" height="5.4" fill="#f9d0d0" stroke="#de3e3e" stroke-width="1.55"/>
<rect x="884.67" y="385.3" width="5.4" height="5.4" fill="#f9d0d0" stroke="#de3e3e" stroke-width="1.55"/>
<rect x="890.12" y="383.3" width="5.4" height="5.4" fill="#f9d0d0" stroke="#de3e3e" stroke-width="1.55"/>
<rect x="895.56" y="383.3" width="5.4" height="5.4" fill="#f9d0d0" stroke="#de3e3e" stroke-width="1.55"/>
<rect x="901.01" y="381.3" width="5.4" height="5.4" fill="#f9d0d0" stroke="#de3e3e" stroke-width="1.55"/>
<rect x="906.46" y="381.5" width="5.4" height="5.4" fill="#f9d0d0" stroke="#de3e3e" stroke-width="1.55"/>
<rect x="911.91" y="383.1" width="5.4" height="5.4" fill="#f9d0d0" stroke="#de3e3e" stroke-width="1.55"/>
<rect x="917.36" y="382.8" width="5.4" height="5.4" fill="#f9d0d0" stroke="#de3e3e" stroke-width="1.55"/>
<rect x="922.8" y="383.5" width="5.4" height="5.4" fill="#f9d0d0" stroke="#de3e3e" stroke-width="1.55"/>
<text transform="translate(640.4,368.3) scale(1.02,1)" font-size="20.9" text-anchor="end">40,000</text>
<text transform="translate(640.4,415.2) scale(1.02,1)" font-size="20.9" text-anchor="end">30,000</text>
<text transform="translate(640.4,462.1) scale(1.02,1)" font-size="20.9" text-anchor="end">20,000</text>
<text transform="translate(640.4,509) scale(1.02,1)" font-size="20.9" text-anchor="end">10,000</text>
<text transform="translate(640.4,555.9) scale(1.02,1)" font-size="20.9" text-anchor="end">0</text>
<text transform="translate(944.4,368.3) scale(1.02,1)" font-size="20.9">600</text>
<text transform="translate(944.4,399.57) scale(1.02,1)" font-size="20.9">500</text>
<text transform="translate(944.4,430.83) scale(1.02,1)" font-size="20.9">400</text>
<text transform="translate(944.4,462.1) scale(1.02,1)" font-size="20.9">300</text>
<text transform="translate(944.4,493.37) scale(1.02,1)" font-size="20.9">200</text>
<text transform="translate(944.4,524.63) scale(1.02,1)" font-size="20.9">100</text>
<text transform="translate(944.4,555.9) scale(1.02,1)" font-size="20.9">0</text>
<text transform="translate(672.9,601.5) rotate(-90)" font-size="21.2">1963</text>
<text transform="translate(700.14,601.5) rotate(-90)" font-size="21.2">1968</text>
<text transform="translate(727.38,601.5) rotate(-90)" font-size="21.2">1973</text>
<text transform="translate(754.62,601.5) rotate(-90)" font-size="21.2">1978</text>
<text transform="translate(781.86,601.5) rotate(-90)" font-size="21.2">1983</text>
<text transform="translate(809.1,601.5) rotate(-90)" font-size="21.2">1988</text>
<text transform="translate(836.34,601.5) rotate(-90)" font-size="21.2">1993</text>
<text transform="translate(863.58,601.5) rotate(-90)" font-size="21.2">1998</text>
<text transform="translate(890.82,601.5) rotate(-90)" font-size="21.2">2003</text>
<text transform="translate(918.06,601.5) rotate(-90)" font-size="21.2">2008</text>
<text transform="translate(554.1,493.8) rotate(-90)" font-size="20.3">Per capita GDP</text>
<text transform="translate(577.9,516.5) rotate(-90)" font-size="20.3">/constant 2000 U.S.$</text>
<text transform="translate(1001.3,539.9) rotate(-90)" font-size="20.43">Vehicle/1000 people</text>
<text x="768.4" y="629.2" font-size="20.85">Year</text>
<line x1="563.5" y1="647.9" x2="602.6" y2="647.9" stroke="#0a72bf" stroke-width="1.6"/>
<text x="606.8" y="655.8" font-size="20.85">Per capita GDP</text>
<line x1="741.3" y1="647.5" x2="780.6" y2="647.5" stroke="#de3e3e" stroke-width="1.5"/>
<rect x="757.6" y="644.8" width="5.4" height="5.4" fill="#f9d0d0" stroke="#de3e3e" stroke-width="1.55"/>
<text x="787" y="655.8" font-size="20.8">Vehicle per 1000 people</text>
<text x="664" y="692" font-size="25.5">(<tspan font-weight="bold">d</tspan>) United Kingdom</text>
<rect x="2.5" y="2.5" width="1019" height="696" fill="none" stroke="#474747" stroke-width="1.4"/>
<line x1="516.5" y1="2.5" x2="516.5" y2="698.5" stroke="#474747" stroke-width="1.4"/>
<line x1="2.5" y1="331.5" x2="1021.5" y2="331.5" stroke="#474747" stroke-width="1.4"/>
</svg>
</body></html>
